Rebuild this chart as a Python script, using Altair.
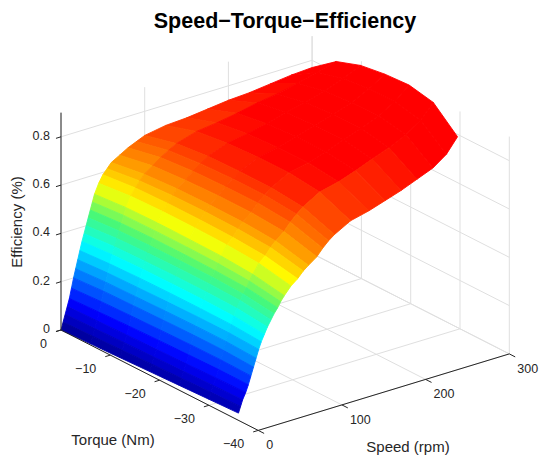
import altair as alt
import pandas as pd

# ---------------- data ----------------
SPEED = [0, 2.5, 5, 7.5, 10, 12.5, 15, 17.5, 20, 22.5, 25, 27.5, 30, 32.5, 35, 37.5,
         40, 45, 50, 55, 60, 70, 80, 90, 100, 125, 150, 175, 200, 225, 250, 275, 300]
# torque limit (Nm, magnitude) at each speed
TMAX = [36, 36, 36, 36.2, 36.3, 36.4, 36.5, 36.6, 36.7, 36.8, 37, 37.2, 37.5, 37.7, 38, 38.2,
        38.5, 39, 39.5, 39.8, 40, 40, 39.5, 39, 38.5, 37.5, 37, 36, 35, 34, 33, 31.5, 29.5]
# fraction of the torque limit for each column of the grid
FRAC = [0, 1 / 6, 1 / 3, 0.5, 2 / 3, 5 / 6, 1]
# efficiency at (speed row, torque column)
EFF = [
    [0.000, 0.005, 0.010, 0.015, 0.020, 0.025, 0.030],
    [0.030, 0.034, 0.038, 0.043, 0.047, 0.051, 0.055],
    [0.060, 0.063, 0.067, 0.070, 0.073, 0.077, 0.080],
    [0.090, 0.093, 0.097, 0.100, 0.103, 0.107, 0.110],
    [0.120, 0.126, 0.131, 0.135, 0.138, 0.141, 0.140],
    [0.160, 0.167, 0.171, 0.174, 0.177, 0.178, 0.175],
    [0.200, 0.208, 0.211, 0.214, 0.216, 0.216, 0.210],
    [0.235, 0.243, 0.246, 0.249, 0.251, 0.251, 0.245],
    [0.270, 0.278, 0.281, 0.284, 0.286, 0.286, 0.280],
    [0.305, 0.313, 0.317, 0.319, 0.319, 0.318, 0.310],
    [0.340, 0.349, 0.353, 0.354, 0.354, 0.351, 0.340],
    [0.370, 0.380, 0.384, 0.386, 0.386, 0.383, 0.370],
    [0.400, 0.412, 0.417, 0.419, 0.419, 0.415, 0.400],
    [0.430, 0.441, 0.445, 0.446, 0.446, 0.441, 0.425],
    [0.460, 0.470, 0.474, 0.474, 0.472, 0.467, 0.450],
    [0.490, 0.501, 0.503, 0.503, 0.501, 0.494, 0.475],
    [0.520, 0.531, 0.534, 0.533, 0.531, 0.522, 0.500],
    [0.560, 0.574, 0.578, 0.578, 0.575, 0.566, 0.540],
    [0.590, 0.604, 0.608, 0.608, 0.605, 0.596, 0.570],
    [0.610, 0.628, 0.636, 0.638, 0.636, 0.628, 0.600],
    [0.630, 0.651, 0.660, 0.662, 0.661, 0.652, 0.620],
    [0.650, 0.675, 0.685, 0.690, 0.690, 0.680, 0.645],
    [0.670, 0.698, 0.710, 0.714, 0.715, 0.704, 0.665],
    [0.685, 0.716, 0.729, 0.734, 0.734, 0.722, 0.680],
    [0.700, 0.733, 0.747, 0.751, 0.750, 0.737, 0.690],
    [0.715, 0.755, 0.771, 0.778, 0.779, 0.764, 0.710],
    [0.720, 0.764, 0.782, 0.790, 0.791, 0.776, 0.720],
    [0.730, 0.775, 0.794, 0.802, 0.803, 0.786, 0.725],
    [0.740, 0.790, 0.812, 0.819, 0.819, 0.800, 0.730],
    [0.745, 0.799, 0.822, 0.831, 0.832, 0.812, 0.740],
    [0.755, 0.815, 0.840, 0.850, 0.852, 0.830, 0.750],
    [0.765, 0.832, 0.860, 0.872, 0.874, 0.851, 0.765],
    [0.770, 0.846, 0.881, 0.896, 0.902, 0.881, 0.790],
]

SPEED_TICKS = [0, 100, 200, 300]
SPEED_LABELS = ["0", "100", "200", "300"]
TORQUE_TICKS = [0, -10, -20, -30, -40]
TORQUE_LABELS = ["0", "\u221210", "\u221220", "\u221230", "\u221240"]
EFF_TICKS = [0, 0.2, 0.4, 0.6, 0.8]
EFF_LABELS = ["0", "0.2", "0.4", "0.6", "0.8"]
S_LIM = (0, 300)
T_LIM = (-40, 0)
Z_LIM = (0, 0.9)

# ---------------- 3-D view (orthographic projection, pixels) ----------------
W, H = 534, 455
X0, Y0 = 53, 322          # screen position of (speed 0, torque 0, eff 0)
XS, YS = 0.837, -0.255    # per rpm
XT, YT = -4.93, -2.51     # per Nm
ZS = -241.5               # per unit efficiency


def px(s, t, z):
    return f"{X0} + {XS}*datum.{s} + {XT}*datum.{t}"


def py(s, t, z):
    return f"{Y0} + {YS}*datum.{s} + {YT}*datum.{t} + {ZS}*datum.{z}"


xsc = alt.Scale(domain=[0, W], nice=False, zero=False)
ysc = alt.Scale(domain=[0, H], nice=False, zero=False, reverse=True)

# ---------------- surface table ----------------
cells = []
for i in range(len(SPEED) - 1):
    for j in range(len(FRAC) - 1):
        corners = [(i, j), (i + 1, j), (i + 1, j + 1), (i, j + 1)]
        pts = [(SPEED[a], -TMAX[a] * FRAC[b], EFF[a][b]) for a, b in corners]
        c = sum(p[2] for p in pts) / 4
        u = sum(p[0] for p in pts) / 4 / 300
        v = sum(-p[1] for p in pts) / 4 / 40
        cells.append((251 * v - 199 * u, pts, c))
cells.sort(key=lambda q: q[0])
rows = []
for n, (_, pts, c) in enumerate(cells):
    for k, p in enumerate(pts + [pts[0]]):
        rows.append({"cell": f"c{n:04d}", "k": k, "s": p[0], "t": p[1], "z": p[2], "c": c})
surf_df = pd.DataFrame(rows)

jet = alt.Scale(
    domain=[0, 0.1125, 0.3375, 0.45, 0.5625, 0.675, 0.7875, 0.95],
    range=["#00008F", "#0000FF", "#00FFFF", "#48F878", "#FFFF00", "#FF8000", "#FF0000", "#FF0000"],
    interpolate="rgb",
)

surface = alt.Chart(surf_df).transform_calculate(
    px=px("s", "t", "z"), py=py("s", "t", "z")
).mark_line(filled=True, strokeWidth=0.9, strokeJoin="round").encode(
    x=alt.X("px:Q", scale=xsc, axis=None),
    y=alt.Y("py:Q", scale=ysc, axis=None),
    detail="cell:N",
    order="k:Q",
    fill=alt.Fill("c:Q", scale=jet, legend=None),
    stroke=alt.Stroke("c:Q", scale=jet, legend=None),
)

# ---------------- grid, axes, ticks ----------------
s0, s1 = S_LIM
t0, t1 = T_LIM
z0, z1 = Z_LIM
grid = []
for s in SPEED_TICKS:
    grid.append((s, t1, z0, s, t0, z0))      # floor
    grid.append((s, t1, z0, s, t1, z1))      # back wall (torque 0)
for t in TORQUE_TICKS:
    grid.append((s0, t, z0, s1, t, z0))      # floor
    grid.append((s1, t, z0, s1, t, z1))      # side wall (speed max)
for z in EFF_TICKS:
    grid.append((s0, t1, z, s1, t1, z))
    grid.append((s1, t1, z, s1, t0, z))

axes_seg = [
    (s0, t1, z0, s0, t0, z0),   # torque axis
    (s0, t0, z0, s1, t0, z0),   # speed axis
    (s0, t1, z0, s0, t1, z1),   # efficiency axis
]
ticks = []
for t in TORQUE_TICKS:
    ticks.append((s0, t, z0, s0 - 6, t, z0))
for s in SPEED_TICKS:
    ticks.append((s, t0, z0, s, t0 - 1.2, z0))
for z in EFF_TICKS:
    ticks.append((s0, t1, z, s0 - 6, t1, z))

cols = ["s", "t", "z", "s2", "t2", "z2"]


def segments(data, color, width):
    df = pd.DataFrame(data, columns=cols)
    return alt.Chart(df).transform_calculate(
        px=px("s", "t", "z"), py=py("s", "t", "z"),
        px2=px("s2", "t2", "z2"), py2=py("s2", "t2", "z2"),
    ).mark_rule(color=color, strokeWidth=width).encode(
        x=alt.X("px:Q", scale=xsc, axis=None),
        y=alt.Y("py:Q", scale=ysc, axis=None),
        x2="px2:Q",
        y2="py2:Q",
    )


grid_layer = segments(grid, "#DFDFDF", 1)
axes_layer = segments(axes_seg, "#262626", 1)
tick_layer = segments(ticks, "#262626", 1)

FONT = "Liberation Sans"
TXT = "#262626"


def labels(svals, tvals, zvals, texts, align, dx, dy):
    df = pd.DataFrame({"s": svals, "t": tvals, "z": zvals, "label": texts})
    return alt.Chart(df).transform_calculate(
        px=px("s", "t", "z"), py=py("s", "t", "z")
    ).mark_text(align=align, baseline="middle", dx=dx, dy=dy, font=FONT,
                fontSize=12.5, color=TXT).encode(
        x=alt.X("px:Q", scale=xsc, axis=None),
        y=alt.Y("py:Q", scale=ysc, axis=None),
        text="label:N",
    )


n_t, n_s, n_z = len(TORQUE_TICKS), len(SPEED_TICKS), len(EFF_TICKS)
torque_lab = labels([s0] * n_t, TORQUE_TICKS, [z0] * n_t, TORQUE_LABELS, "right", -14, 14)
speed_lab = labels(SPEED_TICKS, [t0] * n_s, [z0] * n_s, SPEED_LABELS, "left", 8, 15)
eff_lab = labels([s0] * n_z, [t1] * n_z, EFF_TICKS, EFF_LABELS, "right", -11, -1)


def free_text(text, x, y, size, weight="normal", angle=0, color=TXT):
    return alt.Chart(pd.DataFrame({"label": [text]})).mark_text(
        font=FONT, fontSize=size, fontWeight=weight, angle=angle, color=color,
        align="center", baseline="middle",
    ).encode(x=alt.value(x), y=alt.value(y), text="label:N")


title = free_text("Speed\u2212Torque\u2212Efficiency", 277, 14, 21.5, "bold", color="#000000")
xlab = free_text("Speed (rpm)", 400, 439, 15)
ylab = free_text("Torque (Nm)", 105, 432, 15)
zlab = free_text("Efficiency (%)", 9, 214, 15, angle=270)

chart = alt.layer(
    grid_layer, surface, axes_layer, tick_layer,
    torque_lab, speed_lab, eff_lab, title, xlab, ylab, zlab,
).properties(
    width=W, height=H, padding=0, autosize="none", background="white"
).configure_view(stroke=None)

chart.save("out.html", embed_options={"renderer": "svg", "actions": False})
